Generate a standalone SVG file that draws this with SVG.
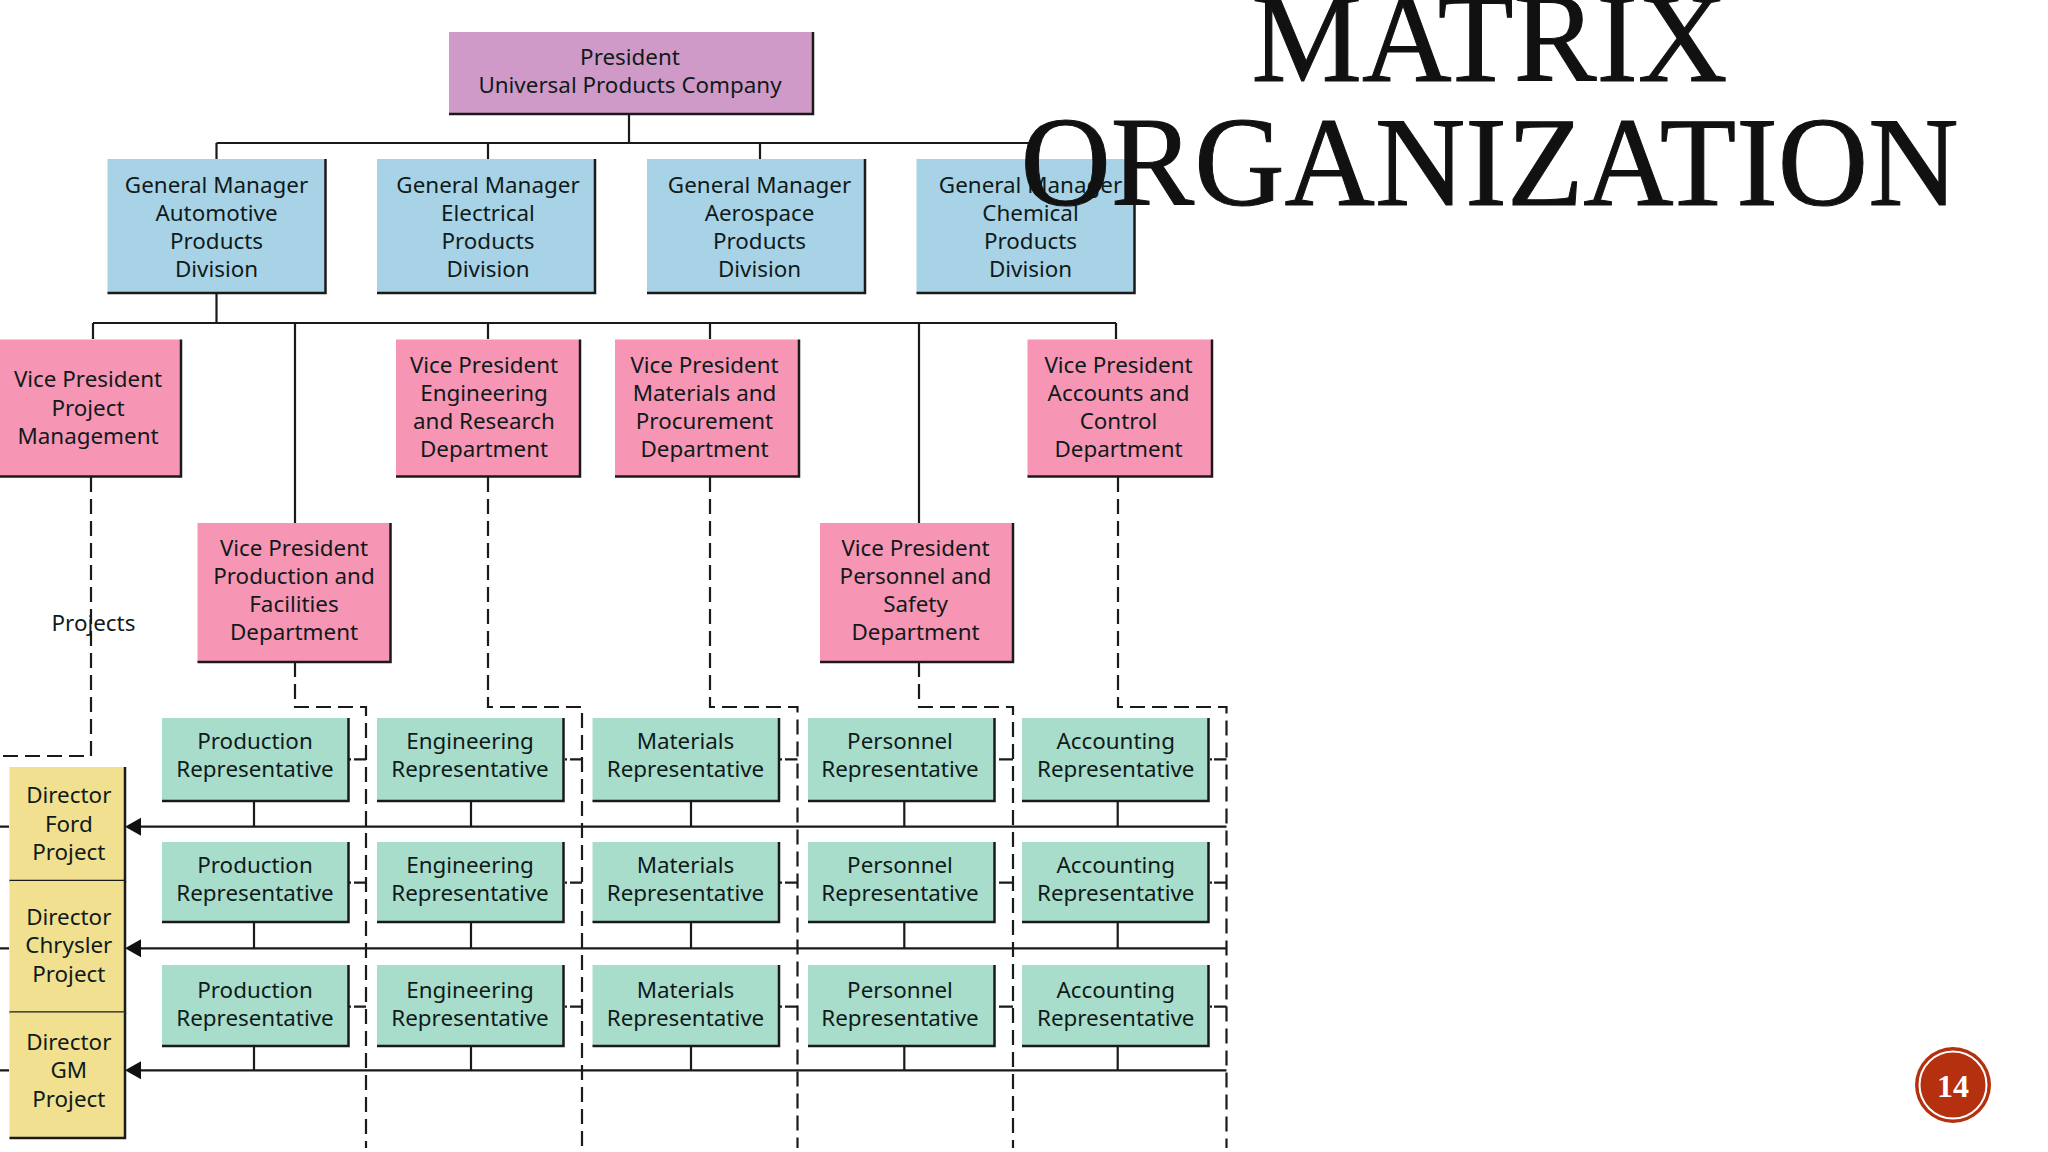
<svg xmlns="http://www.w3.org/2000/svg" width="2048" height="1152" viewBox="0 0 2048 1152">
<style>
text{font-family:"Noto Sans","Open Sans",sans-serif;font-size:22.4px;fill:#101a1a;text-anchor:middle}
.e{fill:none;stroke:#1a1a1a;stroke-width:2.5}
.s{fill:none;stroke:#1a1a1a;stroke-width:2.2}
.d{fill:none;stroke:#1a1a1a;stroke-width:2.2;stroke-dasharray:15 7}
.st{fill:none;stroke:#1a1a1a;stroke-width:2.2}
.pres{fill:#cf9ac8}.gm{fill:#a8d3e6}.vp{fill:#f795b5}.rep{fill:#a9ddcb}.dir{fill:#f0e08f}
.title{font-family:"Liberation Serif",serif;font-size:126px;fill:#111;stroke:#111;stroke-width:1}
.num{font-family:"Liberation Serif",serif;font-size:32px;fill:#fff;font-weight:bold}
</style>
<defs>
<polygon id="ah" points="0,0 16,-9 16,9" fill="#111"/>
</defs>
<rect width="2048" height="1152" fill="#fff"/>
<g id="connectors">
<path class="s" d="M629 114V143M216.500 143H1030M216.500 143V159M488 143V159M760 143V159M1030 143V159"/>
<path class="s" d="M216.500 293V323M93 323H1116M93 323V339M295 323V523M488 323V339M710 323V339M919 323V523M1116 323V339"/>
<path class="d" d="M91 477V756H0"/>
<path class="d" d="M295 662V707H366V1148"/>
<path class="d" d="M488 477V707H582V1148"/>
<path class="d" d="M710 477V707H797.500V1148"/>
<path class="d" d="M919 662V707H1013V1148"/>
<path class="d" d="M1118 477V707H1226.500V1148"/>
<path class="s" d="M130 826.700H1226.500M130 948.300H1226.500M130 1070.300H1226.500M0 826.700H9M0 948.300H9M0 1070.300H9"/>
<path class="s" d="M254 801V826.700M471 801V826.700M691 801V826.700M904.300 801V826.700M1117.700 801V826.700M254 922V948.300M471 922V948.300M691 922V948.300M904.300 922V948.300M1117.700 922V948.300M254 1046V1070.300M471 1046V1070.300M691 1046V1070.300M904.300 1046V1070.300M1117.700 1046V1070.300"/>
<path class="st" d="M354 759.300H366M570 759.300H582M785 759.300H797.500M999 759.300H1013M1214 759.300H1226.500M354 882.700H366M570 882.700H582M785 882.700H797.500M999 882.700H1013M1214 882.700H1226.500M354 1006.700H366M570 1006.700H582M785 1006.700H797.500M999 1006.700H1013M1214 1006.700H1226.500M349 759.300H351M565 759.300H567M780 759.300H782M1210 759.300H1212M349 882.700H351M565 882.700H567M780 882.700H782M1210 882.700H1212M349 1006.700H351M565 1006.700H567M780 1006.700H782M1210 1006.700H1212"/>
<use href="#ah" x="125" y="826.700"/>
<use href="#ah" x="125" y="948.300"/>
<use href="#ah" x="125" y="1070.300"/>
</g>
<text x="93.500" y="631" id="projects-label">Projects</text>

<g id="president"><rect class="pres" x="449" y="32" width="364" height="82"/><path class="e" d="M449 114H813V32"/><text x="630" y="65">President</text><text x="630" y="93">Universal Products Company</text></g>

<g id="gm-automotive"><rect class="gm" x="107.500" y="159" width="218" height="134"/><path class="e" d="M107.500 293H325.500V159"/><text x="216.500" y="192.700">General Manager</text><text x="216.500" y="220.700">Automotive</text><text x="216.500" y="248.700">Products</text><text x="216.500" y="276.700">Division</text></g>
<g id="gm-electrical"><rect class="gm" x="377" y="159" width="218" height="134"/><path class="e" d="M377 293H595V159"/><text x="488" y="192.700">General Manager</text><text x="488" y="220.700">Electrical</text><text x="488" y="248.700">Products</text><text x="488" y="276.700">Division</text></g>
<g id="gm-aerospace"><rect class="gm" x="647" y="159" width="218" height="134"/><path class="e" d="M647 293H865V159"/><text x="759.500" y="192.700">General Manager</text><text x="759.500" y="220.700">Aerospace</text><text x="759.500" y="248.700">Products</text><text x="759.500" y="276.700">Division</text></g>
<g id="gm-chemical"><rect class="gm" x="916.500" y="159" width="218" height="134"/><path class="e" d="M916.500 293H1134.500V159"/><text x="1030.500" y="192.700">General Manager</text><text x="1030.500" y="220.700">Chemical</text><text x="1030.500" y="248.700">Products</text><text x="1030.500" y="276.700">Division</text></g>

<g id="vp-project"><rect class="vp" x="0" y="339.500" width="181" height="137"/><path class="e" d="M0 476.500H181V339.500"/><text x="88" y="387.300">Vice President</text><text x="88" y="415.500">Project</text><text x="88" y="443.500">Management</text></g>
<g id="vp-engineering"><rect class="vp" x="396" y="339.500" width="184" height="137"/><path class="e" d="M396 476.500H580V339.500"/><text x="484" y="372.700">Vice President</text><text x="484" y="400.700">Engineering</text><text x="484" y="428.700">and Research</text><text x="484" y="456.700">Department</text></g>
<g id="vp-materials"><rect class="vp" x="615" y="339.500" width="184" height="137"/><path class="e" d="M615 476.500H799V339.500"/><text x="704.500" y="372.700">Vice President</text><text x="704.500" y="400.700">Materials and</text><text x="704.500" y="428.700">Procurement</text><text x="704.500" y="456.700">Department</text></g>
<g id="vp-accounts"><rect class="vp" x="1027.500" y="339.500" width="184.500" height="137"/><path class="e" d="M1027.500 476.500H1212V339.500"/><text x="1118.500" y="372.700">Vice President</text><text x="1118.500" y="400.700">Accounts and</text><text x="1118.500" y="428.700">Control</text><text x="1118.500" y="456.700">Department</text></g>
<g id="vp-production"><rect class="vp" x="197.500" y="523" width="193" height="139"/><path class="e" d="M197.500 662H390.500V523"/><text x="294" y="556">Vice President</text><text x="294" y="584">Production and</text><text x="294" y="612">Facilities</text><text x="294" y="640">Department</text></g>
<g id="vp-personnel"><rect class="vp" x="820" y="523" width="193" height="139"/><path class="e" d="M820 662H1013V523"/><text x="915.500" y="556">Vice President</text><text x="915.500" y="584">Personnel and</text><text x="915.500" y="612">Safety</text><text x="915.500" y="640">Department</text></g>

<g id="rep-production-1"><rect class="rep" x="162" y="718" width="186.500" height="83"/><path class="e" d="M162 801H348.500V718"/><text x="255" y="749">Production</text><text x="255" y="777">Representative</text></g>
<g id="rep-engineering-1"><rect class="rep" x="377" y="718" width="186.500" height="83"/><path class="e" d="M377 801H563.500V718"/><text x="470" y="749">Engineering</text><text x="470" y="777">Representative</text></g>
<g id="rep-materials-1"><rect class="rep" x="592.500" y="718" width="186.500" height="83"/><path class="e" d="M592.500 801H779V718"/><text x="685.500" y="749">Materials</text><text x="685.500" y="777">Representative</text></g>
<g id="rep-personnel-1"><rect class="rep" x="808" y="718" width="186.500" height="83"/><path class="e" d="M808 801H994.500V718"/><text x="900" y="749">Personnel</text><text x="900" y="777">Representative</text></g>
<g id="rep-accounting-1"><rect class="rep" x="1022" y="718" width="186.500" height="83"/><path class="e" d="M1022 801H1208.500V718"/><text x="1115.700" y="749">Accounting</text><text x="1115.700" y="777">Representative</text></g>

<g id="rep-production-2"><rect class="rep" x="162" y="842" width="186.500" height="80"/><path class="e" d="M162 922H348.500V842"/><text x="255" y="872.700">Production</text><text x="255" y="900.500">Representative</text></g>
<g id="rep-engineering-2"><rect class="rep" x="377" y="842" width="186.500" height="80"/><path class="e" d="M377 922H563.500V842"/><text x="470" y="872.700">Engineering</text><text x="470" y="900.500">Representative</text></g>
<g id="rep-materials-2"><rect class="rep" x="592.500" y="842" width="186.500" height="80"/><path class="e" d="M592.500 922H779V842"/><text x="685.500" y="872.700">Materials</text><text x="685.500" y="900.500">Representative</text></g>
<g id="rep-personnel-2"><rect class="rep" x="808" y="842" width="186.500" height="80"/><path class="e" d="M808 922H994.500V842"/><text x="900" y="872.700">Personnel</text><text x="900" y="900.500">Representative</text></g>
<g id="rep-accounting-2"><rect class="rep" x="1022" y="842" width="186.500" height="80"/><path class="e" d="M1022 922H1208.500V842"/><text x="1115.700" y="872.700">Accounting</text><text x="1115.700" y="900.500">Representative</text></g>

<g id="rep-production-3"><rect class="rep" x="162" y="965" width="186.500" height="81"/><path class="e" d="M162 1046H348.500V965"/><text x="255" y="998.300">Production</text><text x="255" y="1026">Representative</text></g>
<g id="rep-engineering-3"><rect class="rep" x="377" y="965" width="186.500" height="81"/><path class="e" d="M377 1046H563.500V965"/><text x="470" y="998.300">Engineering</text><text x="470" y="1026">Representative</text></g>
<g id="rep-materials-3"><rect class="rep" x="592.500" y="965" width="186.500" height="81"/><path class="e" d="M592.500 1046H779V965"/><text x="685.500" y="998.300">Materials</text><text x="685.500" y="1026">Representative</text></g>
<g id="rep-personnel-3"><rect class="rep" x="808" y="965" width="186.500" height="81"/><path class="e" d="M808 1046H994.500V965"/><text x="900" y="998.300">Personnel</text><text x="900" y="1026">Representative</text></g>
<g id="rep-accounting-3"><rect class="rep" x="1022" y="965" width="186.500" height="81"/><path class="e" d="M1022 1046H1208.500V965"/><text x="1115.700" y="998.300">Accounting</text><text x="1115.700" y="1026">Representative</text></g>

<g id="dir-ford"><rect class="dir" x="9.500" y="767" width="115.500" height="114"/><path class="e" d="M9.500 881H125V767"/><text x="68.800" y="803.300">Director</text><text x="68.800" y="831.700">Ford</text><text x="68.800" y="860">Project</text></g>
<g id="dir-chrysler"><rect class="dir" x="9.500" y="881" width="115.500" height="131.500"/><path class="e" d="M9.500 1012.500H125V881"/><text x="68.800" y="925">Director</text><text x="68.800" y="953.300">Chrysler</text><text x="68.800" y="981.700">Project</text></g>
<g id="dir-gm"><rect class="dir" x="9.500" y="1012.500" width="115.500" height="125.500"/><path class="e" d="M9.500 1138H125V1012.500"/><text x="68.800" y="1050">Director</text><text x="68.800" y="1078.300">GM</text><text x="68.800" y="1106.700">Project</text></g>

<g id="title">
<text class="title" x="1489.500" y="81" textLength="476" lengthAdjust="spacingAndGlyphs">MATRIX</text>
<text class="title" x="1489.500" y="205" textLength="938" lengthAdjust="spacingAndGlyphs">ORGANIZATION</text>
</g>
<g id="page-badge">
<circle cx="1953" cy="1085" r="38" fill="#b5300f"/>
<circle cx="1953" cy="1085" r="33.500" fill="none" stroke="#fff" stroke-width="2"/>
<text class="num" x="1953" y="1097">14</text>
</g>
</svg>
